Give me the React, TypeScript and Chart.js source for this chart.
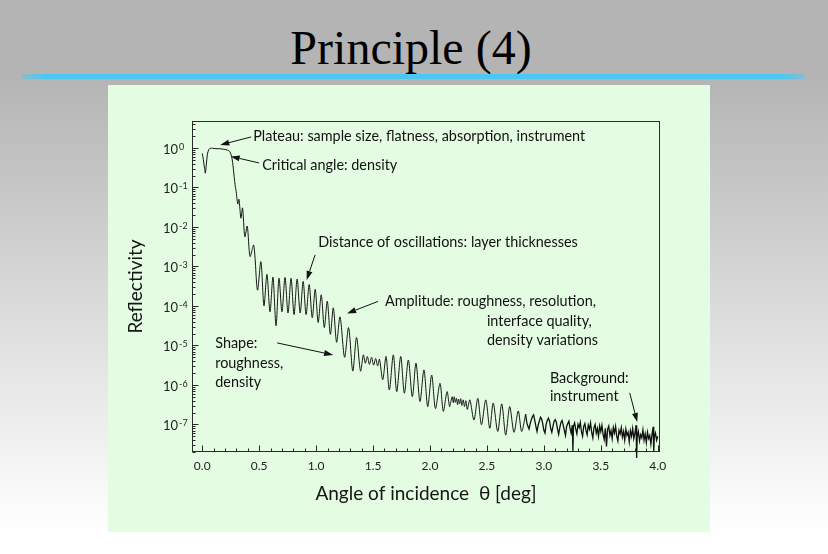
import React, { useEffect, useRef } from "react";
import { Chart, registerables } from "chart.js";

Chart.register(...registerables);

const FONT = "Lato, 'Open Sans', 'DejaVu Sans', sans-serif";

// ---- data: angle of incidence θ [deg] and log10(reflectivity) ----
const edgeTheta = [0.0, 0.01, 0.02, 0.027, 0.035, 0.045, 0.058, 0.07, 0.09, 0.12, 0.15, 0.18, 0.205, 0.225, 0.24, 0.252, 0.262, 0.27, 0.278, 0.285, 0.291, 0.296];
const edgeLogR = [-0.14, -0.3, -0.52, -0.64, -0.45, -0.16, -0.04, -0.01, -0.01, -0.02, -0.02, -0.03, -0.04, -0.06, -0.09, -0.16, -0.28, -0.45, -0.66, -0.85, -1.0, -1.06];

const steepTheta = [0.312, 0.322, 0.34, 0.354, 0.374, 0.395, 0.42, 0.452, 0.485, 0.515];
const steepLogR = [-1.42, -1.3, -1.78, -1.52, -2.25, -1.98, -2.75, -2.46, -3.6, -2.88];

const fringeTheta = [0.542, 0.568, 0.595, 0.621, 0.648, 0.674, 0.7, 0.727, 0.753, 0.78, 0.806, 0.833, 0.86, 0.886, 0.912, 0.939, 0.966, 0.992, 1.018, 1.045, 1.072, 1.098, 1.125, 1.151, 1.18, 1.21, 1.25, 1.285, 1.322, 1.355, 1.39];
const fringeLogR = [-4.0, -3.2, -4.15, -3.27, -4.5, -3.3, -4.15, -3.28, -4.18, -3.3, -4.22, -3.32, -4.18, -3.38, -4.22, -3.46, -4.3, -3.58, -4.42, -3.72, -4.55, -3.88, -4.72, -4.05, -4.92, -4.28, -5.3, -4.55, -5.65, -4.8, -5.65];

const node1Theta = [1.415, 1.432, 1.45, 1.468, 1.487, 1.505, 1.523, 1.54, 1.556, 1.585];
const node1LogR = [-5.24, -5.45, -5.28, -5.48, -5.3, -5.5, -5.33, -5.52, -5.35, -5.87];

const beat2Theta = [1.614, 1.643, 1.678, 1.708, 1.743, 1.775, 1.81, 1.845, 1.877, 1.912, 1.947, 1.98, 2.015, 2.048, 2.088, 2.117, 2.15, 2.172];
const beat2LogR = [-5.28, -6.13, -5.24, -6.17, -5.28, -6.21, -5.37, -6.3, -5.45, -6.42, -5.62, -6.55, -5.75, -6.6, -5.96, -6.67, -6.17, -6.55];

const node2Theta = [2.185, 2.195, 2.205, 2.213, 2.222, 2.232, 2.242, 2.25, 2.26, 2.27, 2.28, 2.292, 2.303, 2.315, 2.328];
const node2LogR = [-6.4, -6.3, -6.45, -6.3, -6.44, -6.34, -6.5, -6.36, -6.48, -6.35, -6.52, -6.38, -6.55, -6.4, -6.62];

const beat3Theta = [2.35, 2.386, 2.42, 2.452, 2.49, 2.525, 2.555, 2.595, 2.63, 2.665, 2.7, 2.738, 2.775, 2.805, 2.84];
const beat3LogR = [-6.38, -6.89, -6.34, -7.01, -6.38, -7.1, -6.46, -7.18, -6.48, -7.27, -6.55, -7.2, -6.66, -7.18, -6.74];

const tailTheta = [
  2.85, 2.86, 2.87, 2.88, 2.89, 2.9, 2.91, 2.92, 2.93, 2.94, 2.95, 2.96, 2.97, 2.98, 2.99,
  3.0, 3.01, 3.02, 3.03, 3.04, 3.05, 3.06, 3.07, 3.08, 3.09, 3.1, 3.11, 3.12, 3.13, 3.14,
  3.15, 3.16, 3.17, 3.18, 3.19, 3.2, 3.21, 3.22, 3.23, 3.24, 3.25, 3.255, 3.26, 3.27, 3.28,
  3.29, 3.3, 3.31, 3.32, 3.33, 3.34, 3.35, 3.36, 3.37, 3.38, 3.39, 3.4, 3.41, 3.42, 3.43,
  3.44, 3.45, 3.46, 3.47, 3.48, 3.49, 3.5, 3.51, 3.52, 3.53, 3.54, 3.55, 3.56, 3.57, 3.58,
  3.59, 3.6, 3.61, 3.62, 3.63, 3.64, 3.65, 3.66, 3.67, 3.68, 3.69, 3.7, 3.71, 3.72, 3.73,
  3.74, 3.75, 3.76, 3.77, 3.78, 3.79, 3.8, 3.81, 3.815, 3.82, 3.83, 3.84, 3.85, 3.86, 3.87,
  3.88, 3.89, 3.9, 3.91, 3.92, 3.93, 3.94, 3.95, 3.96, 3.965, 3.97, 3.98, 3.99, 4.0,
];
const tailLogR = [
  -6.95, -7.05, -7.12, -6.98, -6.88, -6.8, -6.76, -6.9, -7.05, -7.18, -7.02, -6.92, -6.82, -6.86, -6.98,
  -7.15, -7.22, -7.0, -6.9, -6.84, -6.92, -7.1, -7.2, -7.05, -6.92, -6.88, -6.95, -7.12, -7.25, -7.08,
  -6.95, -6.9, -7.02, -7.15, -7.28, -7.05, -6.98, -6.92, -7.1, -7.22, -7.02, -7.68, -7.05, -6.96, -7.12,
  -7.24, -7.0, -7.08, -6.95, -7.18, -7.3, -7.05, -6.98, -7.15, -7.26, -7.02, -7.12, -6.96, -7.2, -7.34,
  -7.08, -7.0, -7.22, -7.1, -7.3, -7.04, -7.18, -7.02, -7.25, -7.38, -7.1, -7.56, -7.12, -7.04, -7.28,
  -7.16, -7.36, -7.08, -7.22, -7.05, -7.3, -7.42, -7.15, -7.24, -7.08, -7.32, -7.18, -7.4, -7.12, -7.28,
  -7.2, -7.44, -7.16, -7.3, -7.1, -7.36, -7.22, -7.02, -7.85, -7.3, -7.18, -7.42, -7.26, -7.34, -7.14,
  -7.4, -7.24, -7.46, -7.2, -7.36, -7.28, -7.5, -7.25, -7.06, -7.7, -7.32, -7.22, -7.4, -7.3,
];

// axis furniture
const X_MIN = -0.09;
const X_MAX = 4.02;
const Y_MIN = 2.0e-8;
const Y_MAX = 4.8;
const yLabelExponents = [0, -1, -2, -3, -4, -5, -6, -7];

// annotations (anchored in data space: θ, log10 R)
const noteTexts = [
  { text: "Plateau: sample size, flatness, absorption, instrument", theta: 0.447, logR: 0.177 },
  { text: "Critical angle: density", theta: 0.526, logR: -0.557 },
  { text: "Distance of oscillations: layer thicknesses", theta: 1.018, logR: -2.506 },
  { text: "Amplitude: roughness, resolution,", theta: 1.605, logR: -4.0 },
  { text: "interface quality,", theta: 2.5, logR: -4.519 },
  { text: "density variations", theta: 2.5, logR: -4.987 },
  { text: "Shape:", theta: 0.114, logR: -5.076 },
  { text: "roughness,", theta: 0.114, logR: -5.57 },
  { text: "density", theta: 0.114, logR: -6.063 },
  { text: "Background:", theta: 3.053, logR: -5.949 },
  { text: "instrument", theta: 3.053, logR: -6.405 },
];
const noteArrows = [
  { from: [0.43, 0.278], to: [0.158, 0.076] },
  { from: [0.498, -0.38], to: [0.25, -0.215] },
  { from: [0.991, -2.709], to: [0.917, -3.342] },
  { from: [1.544, -3.886], to: [1.272, -4.19] },
  { from: [0.658, -4.937], to: [1.149, -5.241] },
  { from: [3.754, -6.203], to: [3.82, -6.937] },
];

const toPoints = (t: number[], l: number[]) => t.map((x, i) => ({ x, y: Math.pow(10, l[i]) }));

const mainPoints = [
  ...toPoints(edgeTheta, edgeLogR),
  ...toPoints(steepTheta, steepLogR),
  ...toPoints(fringeTheta, fringeLogR),
  ...toPoints(node1Theta, node1LogR),
  ...toPoints(beat2Theta, beat2LogR),
  ...toPoints(node2Theta, node2LogR),
  ...toPoints(beat3Theta, beat3LogR),
];
const tailPoints = [
  ...toPoints(beat3Theta.slice(-1), beat3LogR.slice(-1)),
  ...toPoints(tailTheta, tailLogR),
];

function drawArrow(ctx: CanvasRenderingContext2D, x1: number, y1: number, x2: number, y2: number) {
  const ang = Math.atan2(y2 - y1, x2 - x1);
  const head = 9;
  const half = 3;
  const bx = x2 - head * Math.cos(ang);
  const by = y2 - head * Math.sin(ang);
  ctx.beginPath();
  ctx.moveTo(x1, y1);
  ctx.lineTo(bx, by);
  ctx.stroke();
  ctx.beginPath();
  ctx.moveTo(x2, y2);
  ctx.lineTo(bx + half * Math.sin(ang), by - half * Math.cos(ang));
  ctx.lineTo(bx - half * Math.sin(ang), by + half * Math.cos(ang));
  ctx.closePath();
  ctx.fill();
}

const furniturePlugin = {
  id: "furniture",
  afterDatasetsDraw(chart: any) {
    const { ctx, chartArea: a } = chart;
    const xs = chart.scales.x;
    const ys = chart.scales.y;
    const X = (t: number) => xs.getPixelForValue(t);
    const Y = (l: number) => ys.getPixelForValue(Math.pow(10, l));
    ctx.save();
    ctx.strokeStyle = "#2a2a2a";
    ctx.lineWidth = 1;
    const L = Math.round(a.left) + 0.5;
    const R = Math.round(a.right) - 0.5;
    const T = Math.round(a.top) + 0.5;
    const B = Math.round(a.bottom) - 0.5;
    ctx.strokeRect(L, T, R - L, B - T);
    ctx.beginPath();
    for (let i = 0; i <= 40; i++) {
      const x = Math.round(X(i / 10)) + 0.5;
      const len = i % 5 === 0 ? 6 : 3;
      ctx.moveTo(x, B);
      ctx.lineTo(x, B - len);
    }
    for (let n = -8; n <= 0; n++) {
      for (let k = 1; k <= 9; k++) {
        const v = k * Math.pow(10, n);
        if (v < Y_MIN || v > Y_MAX) continue;
        const y = Math.round(ys.getPixelForValue(v)) + 0.5;
        const len = k === 1 ? 6 : 3;
        ctx.moveTo(L, y);
        ctx.lineTo(L + len, y);
      }
    }
    ctx.stroke();

    // y tick labels 10^n
    ctx.fillStyle = "#1e1e1e";
    ctx.textAlign = "left";
    ctx.textBaseline = "alphabetic";
    for (const e of yLabelExponents) {
      const y = Y(e);
      const x0 = a.left - 29;
      ctx.font = `13px ${FONT}`;
      ctx.fillText("10", x0, y + 6);
      const w = ctx.measureText("10").width;
      ctx.font = `9px ${FONT}`;
      ctx.fillText(String(e), x0 + w + 1, y + 2);
    }

    // annotations
    ctx.font = `14.4px ${FONT}`;
    ctx.fillStyle = "#121212";
    for (const n of noteTexts) {
      ctx.fillText(n.text, X(n.theta), Y(n.logR));
    }
    ctx.strokeStyle = "#121212";
    for (const ar of noteArrows) {
      drawArrow(ctx, X(ar.from[0]), Y(ar.from[1]), X(ar.to[0]), Y(ar.to[1]));
    }
    ctx.restore();
  },
};

export default function App() {
  const ref = useRef<HTMLCanvasElement>(null);
  useEffect(() => {
    if (!ref.current) return;
    const chart = new Chart(ref.current, {
      type: "line",
      data: {
        datasets: [
          {
            data: mainPoints,
            borderColor: "#151515",
            borderWidth: 1,
            pointRadius: 0,
            tension: 0.3,
            clip: { left: 0, top: 0, right: 0, bottom: 10 } as any,
          },
          {
            data: tailPoints,
            borderColor: "#101010",
            borderWidth: 1.3,
            pointRadius: 0,
            tension: 0,
            clip: { left: 0, top: 0, right: 0, bottom: 10 } as any,
          },
        ],
      },
      options: {
        animation: false,
        responsive: false,
        layout: { padding: { left: 0, top: 36, right: 50, bottom: 0 } },
        plugins: { legend: { display: false }, tooltip: { enabled: false } },
        scales: {
          x: {
            type: "linear",
            min: X_MIN,
            max: X_MAX,
            afterFit: (s: any) => {
              s.height = 80;
            },
            grid: { display: false, drawTicks: false },
            border: { display: false },
            ticks: {
              stepSize: 0.5,
              includeBounds: false,
              autoSkip: false,
              maxRotation: 0,
              padding: 7,
              color: "#1e1e1e",
              font: { family: FONT, size: 12 },
              callback: (v: any) => Number(v).toFixed(1),
            },
            title: {
              display: true,
              text: "Angle of incidence  θ [deg]",
              color: "#141414",
              font: { family: FONT, size: 19 },
              padding: { top: 0, bottom: 27 },
            },
          },
          y: {
            type: "logarithmic",
            min: Y_MIN,
            max: Y_MAX,
            afterFit: (s: any) => {
              s.width = 84;
            },
            grid: { display: false, drawTicks: false },
            border: { display: false },
            ticks: { display: false },
            title: {
              display: true,
              text: "Reflectivity",
              color: "#141414",
              font: { family: FONT, size: 19 },
              padding: { top: 16, bottom: 0 },
            },
          },
        },
      } as any,
      plugins: [furniturePlugin],
    });
    return () => chart.destroy();
  }, []);

  return (
    <div
      style={{
        position: "fixed",
        left: 0,
        top: 0,
        width: 828,
        height: 554,
        overflow: "hidden",
        background: "linear-gradient(180deg, #b4b4b4 0%, #b4b4b4 14%, #d6d6d6 50%, #ffffff 96%)",
      }}
    >
      <div
        style={{
          position: "absolute",
          left: -3,
          top: 24,
          width: 828,
          textAlign: "center",
          fontFamily: "'Liberation Serif', 'Times New Roman', serif",
          fontSize: 48,
          lineHeight: "48px",
          color: "#000",
        }}
      >
        Principle (4)
      </div>
      <div
        style={{
          position: "absolute",
          left: 22,
          top: 74,
          width: 783,
          height: 5,
          borderRadius: 3,
          background: "linear-gradient(90deg, rgba(75,200,242,0.4) 0%, #4bc8f2 3%, #4bc8f2 97%, rgba(75,200,242,0.4) 100%)",
        }}
      />
      <div
        style={{
          position: "absolute",
          left: 108,
          top: 85,
          width: 602,
          height: 447,
          background: "#e4fce2",
        }}
      >
        <canvas ref={ref} width={602} height={447} style={{ display: "block", width: 602, height: 447 }} />
      </div>
    </div>
  );
}
